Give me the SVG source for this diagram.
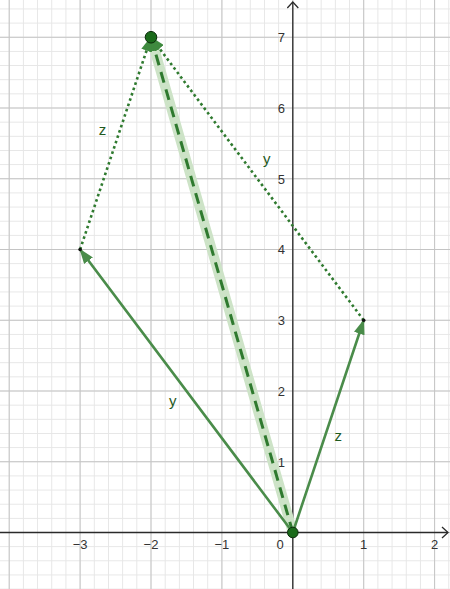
<svg xmlns="http://www.w3.org/2000/svg" width="450" height="589" viewBox="0 0 450 589">
<style>
.tick{font-family:"Liberation Sans",Arial,sans-serif;font-size:13px;fill:#333}
.lbl{font-family:"Liberation Sans",Arial,sans-serif;font-size:15px;fill:#1f5a1f;text-anchor:middle}
.vec{stroke:#4a8c4a;stroke-width:2.6;fill:none;stroke-linecap:round}
.dot{stroke:#2f7a2f;stroke-width:2.6;fill:none;stroke-dasharray:2.6 3}
.dash{stroke:#2f7a2f;stroke-width:3;fill:none;stroke-dasharray:11 7}
.axis{stroke:#2a2a2a;stroke-width:1.3;fill:none}
</style>
<defs>
<pattern id="minor" patternUnits="userSpaceOnUse" x="285.71" y="525.425" width="14.18" height="14.15">
<path d="M7.09 0V14.15M0 7.075H14.18" stroke="#e6e6e6" stroke-width="1"/>
</pattern>
<pattern id="major" patternUnits="userSpaceOnUse" x="257.35" y="497.125" width="70.9" height="70.75">
<path d="M35.45 0V70.75M0 35.375H70.9" stroke="#c4c4c4" stroke-width="1"/>
</pattern>
<marker id="ah" viewBox="0 0 15 11" refX="14" refY="5.5" markerWidth="15" markerHeight="11" markerUnits="userSpaceOnUse" orient="auto">
<path d="M0 0L15 5.5L0 11Z" fill="#4a8c4a"/>
</marker>
<marker id="ahd" viewBox="0 0 15 11" refX="14" refY="5.5" markerWidth="15" markerHeight="11" markerUnits="userSpaceOnUse" orient="auto">
<path d="M0 0L15 5.5L0 11Z" fill="#3f8a3f"/>
</marker>
</defs>
<rect width="450" height="589" fill="#fff"/>
<rect width="450" height="589" fill="url(#minor)"/>
<rect width="450" height="589" fill="url(#major)"/>
<g id="axes">
<path class="axis" d="M0 532.5H448M292.8 589V2"/>
<path class="axis" d="M442 527L448 532.5L442 538M287.3 8L292.8 2L298.3 8"/>
<text class="tick" x="80.1" y="549" text-anchor="middle">−3</text>
<text class="tick" x="151" y="549" text-anchor="middle">−2</text>
<text class="tick" x="221.9" y="549" text-anchor="middle">−1</text>
<text class="tick" x="280" y="549" text-anchor="middle">0</text>
<text class="tick" x="363.7" y="549" text-anchor="middle">1</text>
<text class="tick" x="434.6" y="549" text-anchor="middle">2</text>
<text class="tick" x="285" y="466.5" text-anchor="end">1</text>
<text class="tick" x="285" y="395.8" text-anchor="end">2</text>
<text class="tick" x="285" y="325" text-anchor="end">3</text>
<text class="tick" x="285" y="254.3" text-anchor="end">4</text>
<text class="tick" x="285" y="183.5" text-anchor="end">5</text>
<text class="tick" x="285" y="112.8" text-anchor="end">6</text>
<text class="tick" x="285" y="42" text-anchor="end">7</text>
</g>
<g id="connectors">
<line x1="292.8" y1="532.5" x2="151" y2="37.25" stroke="#cde3c7" stroke-width="10" stroke-linecap="round"/>
<line class="dash" x1="292.8" y1="532.5" x2="151" y2="37.25" marker-end="url(#ahd)"/>
<line class="dot" x1="80.1" y1="249.5" x2="151" y2="37.25" marker-end="url(#ahd)"/>
<line class="dot" x1="363.7" y1="320.25" x2="151" y2="37.25" marker-end="url(#ahd)"/>
<line class="vec" x1="292.8" y1="532.5" x2="80.1" y2="249.5" marker-end="url(#ah)"/>
<line class="vec" x1="292.8" y1="532.5" x2="363.7" y2="320.25" marker-end="url(#ah)"/>
</g>
<g id="point-A"><circle cx="151" cy="37.25" r="5.8" fill="#1a6a1a" stroke="#0a2a0a" stroke-width="1"/></g>
<g id="point-O"><circle cx="292.8" cy="532.5" r="5.3" fill="#1a6a1a" stroke="#0a2a0a" stroke-width="1"/></g>
<g id="point-B"><circle cx="80.1" cy="249.5" r="1.8" fill="#111"/></g>
<g id="point-C"><circle cx="363.7" cy="320.25" r="1.8" fill="#111"/></g>
<g id="labels">
<text class="lbl" x="102.5" y="134.5">z</text>
<text class="lbl" x="266.7" y="163.5">y</text>
<text class="lbl" x="172.7" y="406">y</text>
<text class="lbl" x="338.3" y="440.5">z</text>
</g>
</svg>
